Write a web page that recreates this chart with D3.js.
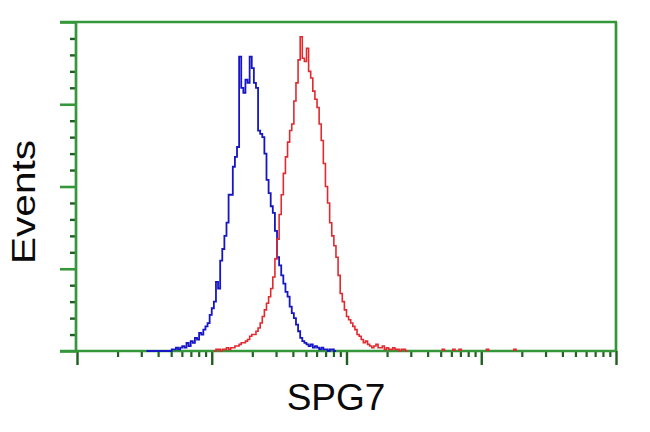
<!DOCTYPE html>
<html>
<head>
<meta charset="utf-8">
<script src="https://cdn.jsdelivr.net/npm/d3@7"></script>
<style>
  html, body { margin: 0; padding: 0; background: #ffffff; }
  svg { display: block; }
</style>
</head>
<body>
<svg id="chart" width="650" height="432"></svg>
<script>
// ---- data (256-channel histogram, 4 log decades) ----
const xLabel = "SPG7";
const yLabel = "Events";
const channelsPerDecade = 64;
const xMajorTicks = [1, 10, 100, 1000, 10000];
const yMajorTicks = [0, 50, 100, 150, 200];

// control (blue) histogram, counts starting at channel 33
const blueStart = 33;
const blueCounts = [
  0,0,0,0,0,0,0,0,0,0,0,0,
  1,1,2,1,2,3,2,5,3,6,5,8,7,11,10,13,15,17,22,26,30,42,38,55,62,70,78,95,95,112,118,124,
  179,160,157,165,163,179,172,163,160,134,132,130,120,104,96,88,84,73,57,52,46,41,36,33,27,23,20,16,12,8,6,5,4,3,4,2,3,2,1,2,1,1,0,1,1,0
];

// SPG7 stained (red) histogram, counts starting at channel 65
const redStart = 65;
const redCounts = [
  0,1,1,0,1,1,2,1,2,2,3,3,4,5,5,6,7,9,10,10,12,14,17,21,25,29,33,38,45,56,68,83,95,108,118,127,134,138,152,163,177,191,
  178,176,184,170,166,158,153,148,138,128,114,100,90,78,70,64,57,46,35,30,25,21,19,17,15,13,10,9,7,5,6,4,3,2,3,4,2,2,3,1,2,1,1,2,1,1,0,1,1,0
];
// isolated high-channel red events
const redSparseChannels = [174, 179, 182, 195, 208];
const redSparseCounts = [1, 1, 1, 1, 1];

// ---- layout ----
const svg = d3.select("#chart");
const axisColor = "#35973a";
const tickColor = "#1f5f22";

const x = d3.scaleLog().domain([1, 10000]).range([77, 616]);
const y = d3.scaleLinear().domain([0, 200]).range([351, 22]);
const chVal = ch => Math.pow(10, ch / channelsPerDecade);

// y axis ticks
const yMinor = d3.range(0, 201, 10).filter(v => v % 50 !== 0);
svg.append("g").attr("transform", "translate(76,0)")
  .call(d3.axisLeft(y).tickValues(yMinor).tickSize(6).tickFormat(""))
  .call(g => g.select(".domain").remove())
  .call(g => g.selectAll("line").attr("stroke", tickColor).attr("stroke-width", 2.4));
svg.append("g").attr("transform", "translate(76,0)")
  .call(d3.axisLeft(y).tickValues(yMajorTicks).tickSize(16).tickFormat(""))
  .call(g => g.select(".domain").remove())
  .call(g => g.selectAll("line").attr("stroke", axisColor).attr("stroke-width", 2.6));

// x axis ticks
const xMinor = [];
for (let d = 1; d < 10000; d *= 10) for (let k = 2; k <= 9; k++) xMinor.push(d * k);
svg.append("g").attr("transform", "translate(0,351)")
  .call(d3.axisBottom(x).tickValues(xMinor).tickSize(6).tickFormat(""))
  .call(g => g.select(".domain").remove())
  .call(g => g.selectAll("line").attr("stroke", tickColor).attr("stroke-width", 2.2));
svg.append("g").attr("transform", "translate(0,351)")
  .call(d3.axisBottom(x).tickValues(xMajorTicks).tickSize(14).tickFormat(""))
  .call(g => g.select(".domain").remove())
  .call(g => g.selectAll("line").attr("stroke", tickColor).attr("stroke-width", 2.4));

// frame
const frame = svg.append("g").attr("fill", "none").attr("stroke", axisColor).attr("stroke-width", 2.7);
frame.append("line").attr("x1", 60).attr("x2", x(10000) + 1).attr("y1", y(200)).attr("y2", y(200));
frame.append("line").attr("x1", x(10000)).attr("x2", x(10000)).attr("y1", y(200)).attr("y2", y(0));
frame.append("line").attr("x1", 76).attr("x2", 76).attr("y1", y(200)).attr("y2", y(0));
frame.append("line").attr("x1", 60).attr("x2", x(10000)).attr("y1", y(0)).attr("y2", y(0));

// histograms
function histPoints(start, counts) {
  const pts = counts.map((c, i) => [chVal(start + i), c]);
  pts.push([chVal(start + counts.length), counts[counts.length - 1]]);
  return pts;
}
const line = d3.line().x(d => x(d[0])).y(d => y(d[1])).curve(d3.curveStepAfter);

svg.append("path").datum(histPoints(blueStart, blueCounts))
  .attr("d", line).attr("fill", "none").attr("stroke", "#1616c4").attr("stroke-width", 1.8);
svg.append("path").datum(histPoints(redStart, redCounts))
  .attr("d", line).attr("fill", "none").attr("stroke", "#e02a30").attr("stroke-width", 1.6);
redSparseChannels.forEach((ch, i) => {
  svg.append("path").datum([[chVal(ch - 0.5), 0], [chVal(ch - 0.5), redSparseCounts[i]], [chVal(ch + 0.5), redSparseCounts[i]], [chVal(ch + 0.5), 0]])
    .attr("d", d3.line().x(d => x(d[0])).y(d => y(d[1])))
    .attr("fill", "none").attr("stroke", "#e02a30").attr("stroke-width", 1.8);
});

// labels
svg.append("text").text(xLabel)
  .attr("x", 336).attr("y", 410).attr("text-anchor", "middle")
  .attr("font-family", "Liberation Sans, Arial, sans-serif").attr("font-size", 37).attr("fill", "#0a0a0a");
svg.append("text").text(yLabel)
  .attr("transform", "translate(35,202) rotate(-90)").attr("text-anchor", "middle")
  .attr("font-family", "Liberation Sans, Arial, sans-serif").attr("font-size", 34).attr("fill", "#0a0a0a")
  .attr("textLength", 124).attr("lengthAdjust", "spacingAndGlyphs");
</script>
</body>
</html>
